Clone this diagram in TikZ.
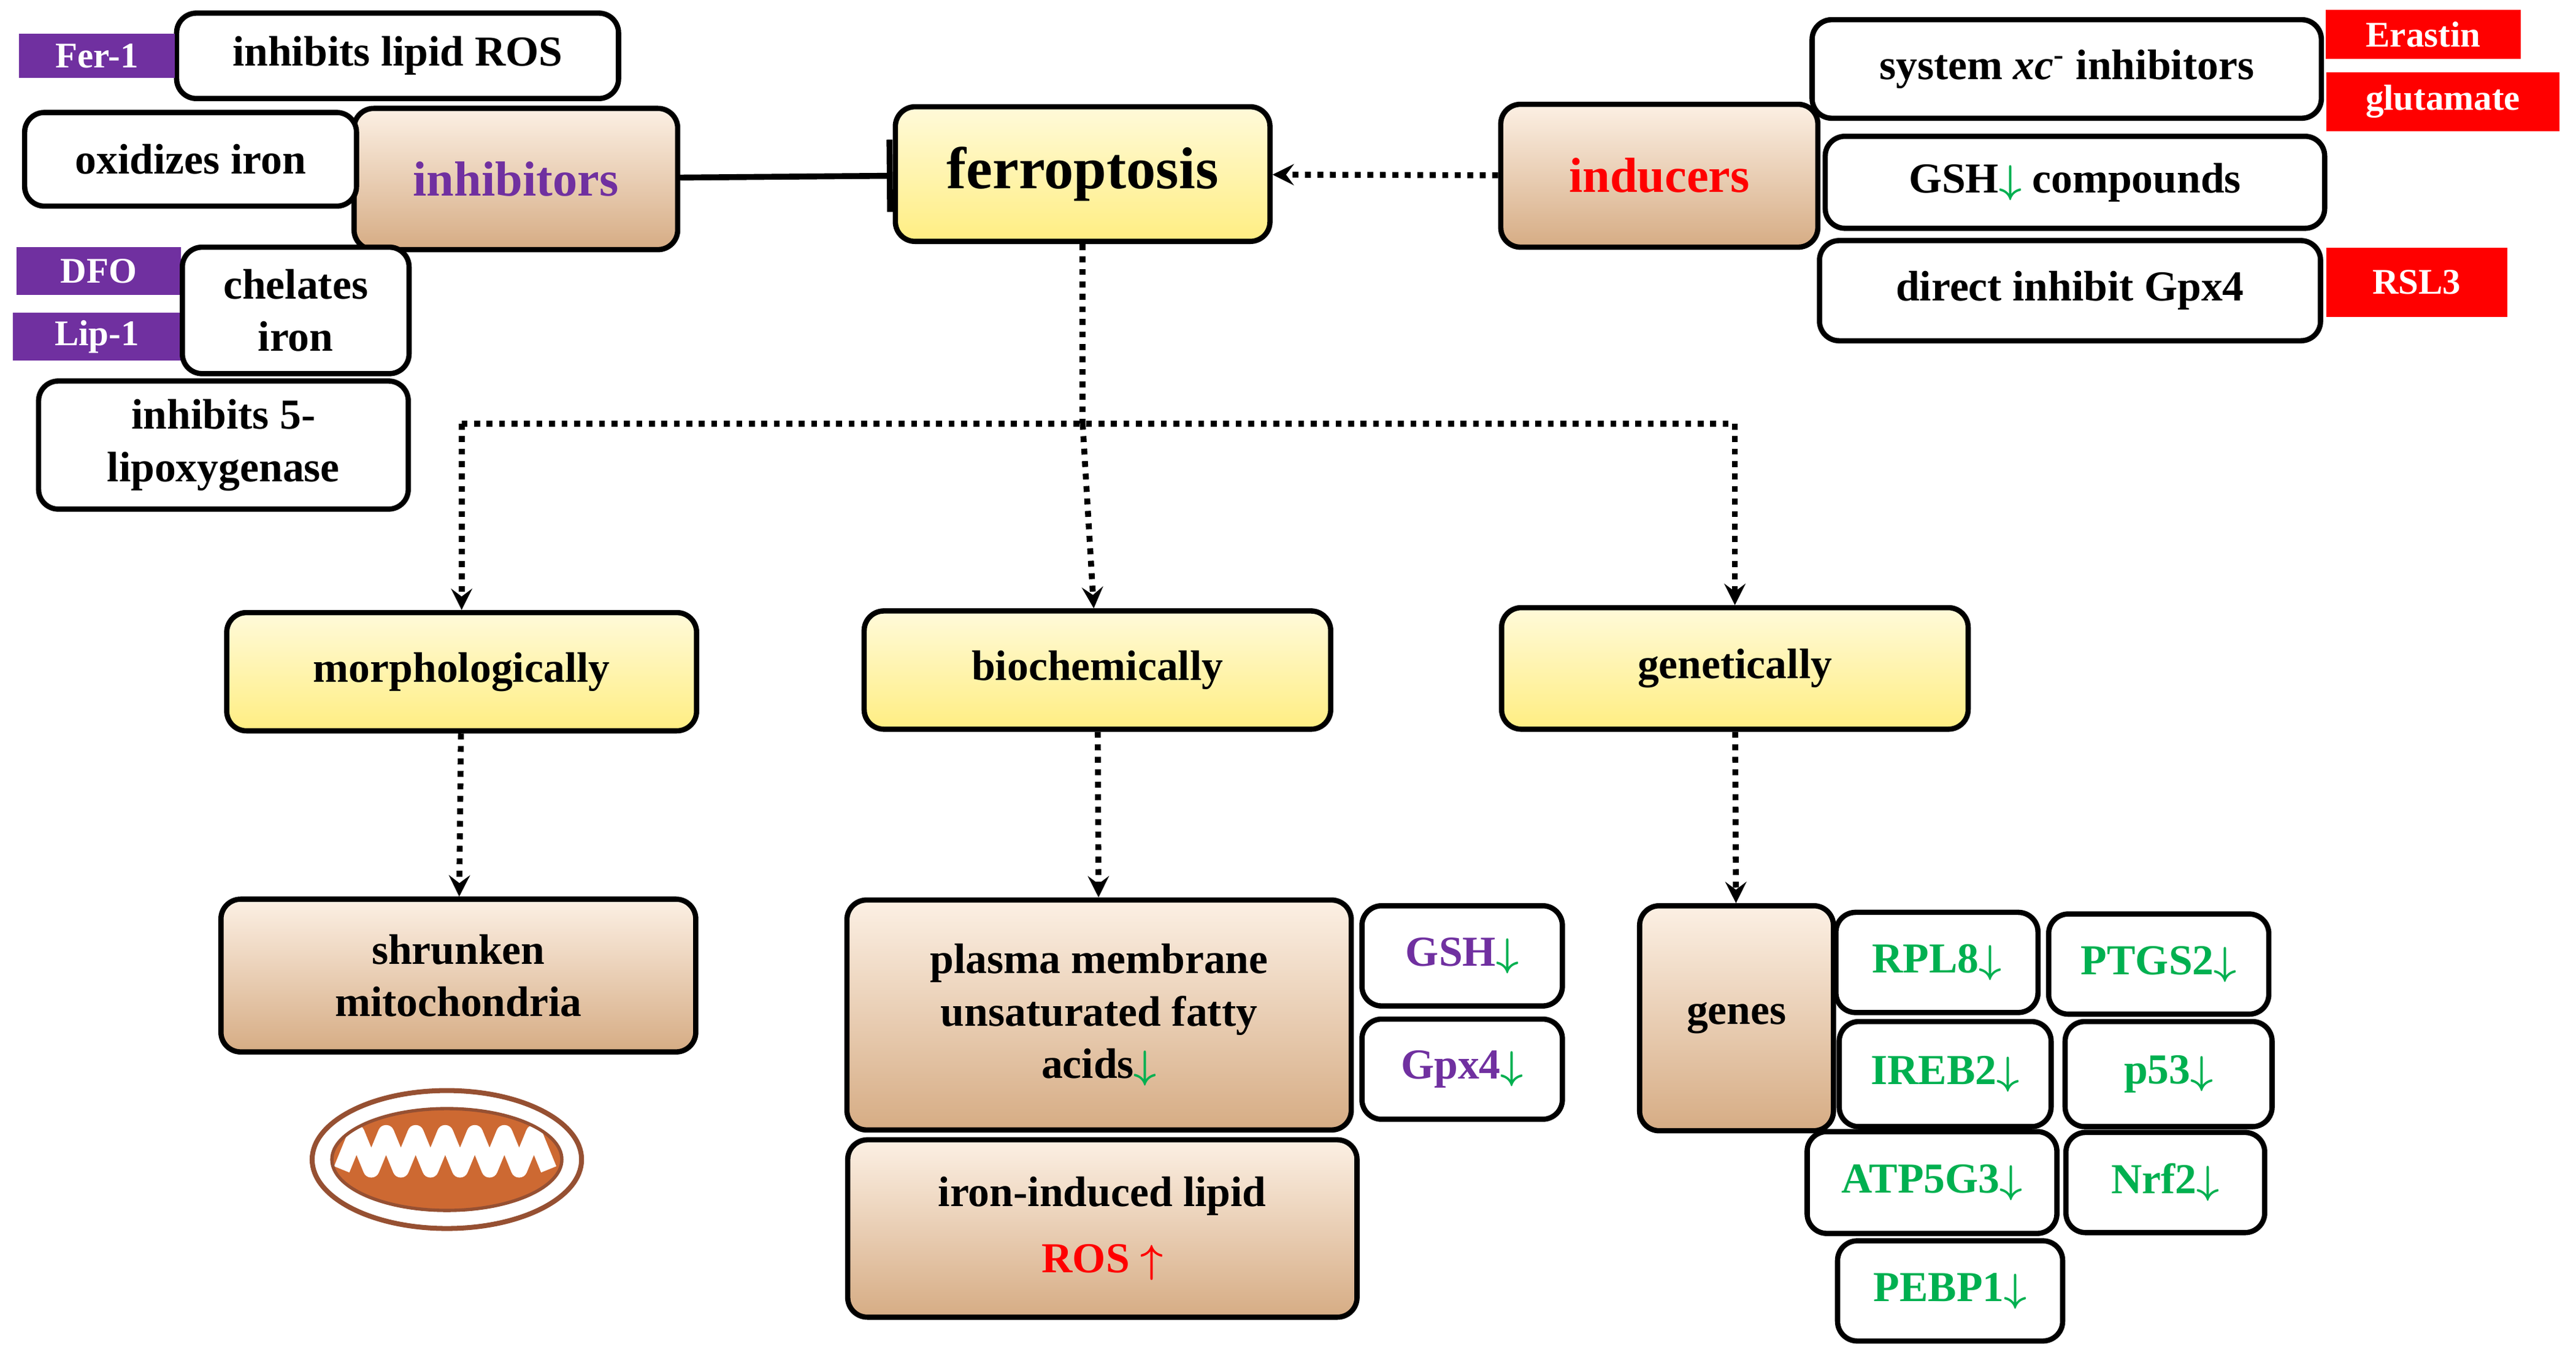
\documentclass[tikz,border=0pt]{standalone}
\usepackage{amsmath}
\usepackage{fontspec}
\setmainfont{Liberation Serif}
\usetikzlibrary{positioning,arrows.meta}
\definecolor{vio}{RGB}{112,48,160}
\definecolor{grn}{RGB}{0,176,80}
\definecolor{redd}{RGB}{255,0,0}
\definecolor{tanlo}{RGB}{214,172,132}
\definecolor{tanhi}{RGB}{252,240,228}
\definecolor{yello}{RGB}{255,238,130}
\definecolor{mitob}{RGB}{150,80,50}
\definecolor{mitoo}{RGB}{205,105,50}
\newcommand{\dn}{\textcolor{grn}{$\boldsymbol\downarrow$}}

\begin{document}
\begin{tikzpicture}[x=0.5pt,y=-0.5pt,
  sz/.style 2 args={minimum width=#1*0.5pt,minimum height=#2*0.5pt},
  box/.style={draw,line width=1.6pt,rounded corners=6pt,fill=white,inner sep=1pt,
    align=center,font=\bfseries\fontsize{13}{16}\selectfont},
  yel/.style={box,top color=white!70!yello,bottom color=yello},
  tan/.style={box,top color=tanhi,bottom color=tanlo},
  tag/.style={fill=#1,text=white,inner sep=1pt,font=\bfseries\fontsize{11}{13}\selectfont},
  gbox/.style={box,text=grn},
  dots/.style={line width=1.8pt,dotted}]
\useasboundingbox (0,0) rectangle (1568,823);
% top row
\node[yel,sz={228}{82},font=\bfseries\fontsize{18}{22}\selectfont] (ferro) at (659,106) {ferroptosis};
\node[tan,sz={197}{86},text=vio,font=\bfseries\fontsize{15}{18}\selectfont] (inh) at (314,109) {inhibitors};
\node[tan,sz={193}{87},text=redd,font=\bfseries\fontsize{15}{18}\selectfont] (ind) at (1010,107) {inducers};
% inhibitors side
\node[box,sz={269}{52}] (lipros) at (242,34) {inhibits lipid ROS};
\node[tag=vio,sz={95}{27}] (fer1) at (59,34) {Fer-1};
\node[box,sz={202}{57}] (oxiron) at (116,97) {oxidizes iron};
\node[tag=vio,sz={100}{29}] (dfo) at (60,165) {DFO};
\node[tag=vio,sz={102}{29}] (lip1) at (59,205) {Lip-1};
\node[box,sz={138}{77}] (chel) at (180,189) {chelates\\iron};
\node[box,sz={225}{78}] (lox) at (136,271) {inhibits 5-\\lipoxygenase};
% inducers side
\node[box,sz={310}{60}] (xc) at (1258,42) {system \textit{xc}\textsuperscript{-} inhibitors};
\node[tag=redd,sz={119}{30}] (erastin) at (1475,21) {Erastin};
\node[tag=redd,sz={142}{36}] (glut) at (1487,62) {glutamate};
\node[box,sz={304}{56}] (gshc) at (1263,111) {GSH\dn{} compounds};
\node[box,sz={305}{61}] (gpxi) at (1260,177) {direct inhibit Gpx4};
\node[tag=redd,sz={110}{42}] (rsl) at (1471,172) {RSL3};
% three aspects
\node[yel,sz={286}{72}] (morph) at (281,409) {morphologically};
\node[yel,sz={284}{72}] (bioch) at (668,408) {biochemically};
\node[yel,sz={284}{74}] (genet) at (1056,407) {genetically};
\coordinate (split) at (659,258);
% results
\node[tan,sz={289}{93}] (shrunk) at (279,594) {shrunken\\mitochondria};
\node[tan,sz={307}{140}] (pufa) at (669,618) {plasma membrane\\unsaturated fatty\\acids\dn};
\node[tan,sz={310}{108}] (ros) at (671,748) {iron-induced lipid\\[4pt]\textcolor{redd}{ROS $\boldsymbol\uparrow$}};
\node[box,sz={122}{61},text=vio] (gsh) at (890,582) {GSH\dn};
\node[box,sz={122}{61},text=vio] (gpx) at (890,651) {Gpx4\dn};
\node[tan,sz={118}{137}] (genes) at (1057,620) {genes};
\node[gbox,sz={123}{61}] (rpl) at (1179,586) {RPL8$\boldsymbol\downarrow$};
\node[gbox,sz={134}{61}] (ptgs) at (1314,587) {PTGS2$\boldsymbol\downarrow$};
\node[gbox,sz={129}{64}] (ireb) at (1184,654) {IREB2$\boldsymbol\downarrow$};
\node[gbox,sz={126}{64}] (p53) at (1320,654) {p53$\boldsymbol\downarrow$};
\node[gbox,sz={152}{62}] (atp) at (1176,720) {ATP5G3$\boldsymbol\downarrow$};
\node[gbox,sz={121}{61}] (nrf) at (1318,720) {Nrf2$\boldsymbol\downarrow$};
\node[gbox,sz={137}{61}] (pebp) at (1187,786) {PEBP1$\boldsymbol\downarrow$};
% connectors
\draw[line width=1.8pt,-{Bar[width=22pt]}] (inh) -- (ferro);
\draw[dots,-stealth] (ind) -- (ferro);
\draw[dots] (ferro) -- (split) (morph |- split) -- (genet |- split);
\path[dots,-stealth] (morph |- split) edge (morph) (split) edge (bioch) (genet |- split) edge (genet)
  (morph) edge (shrunk) (bioch) edge (pufa) (genet) edge (genes);
% mitochondrion
\draw[mitob,line width=1.5pt,fill=white] (272,706) ellipse [x radius=82,y radius=42];
\fill[mitoo] (272,706) ellipse [x radius=70,y radius=31];
\draw[white,line width=5pt,line join=round]
  (208,712) \foreach \i in {0,...,6} {-- ++(9,-22) -- ++(9,22)};
\draw[mitob,line width=1pt] (272,706) ellipse [x radius=70,y radius=31];
\end{tikzpicture}
\end{document}
